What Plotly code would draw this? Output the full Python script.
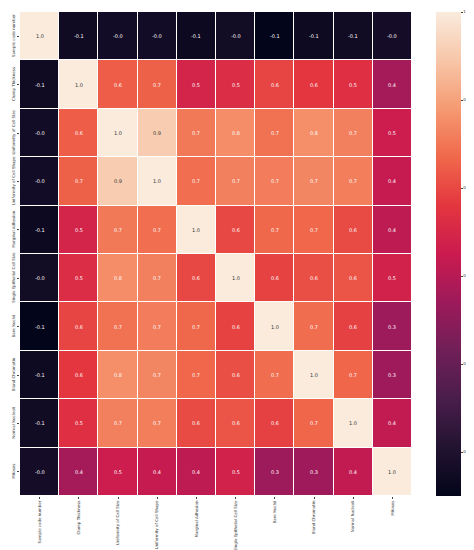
import plotly.graph_objects as go

labels = ["Sample code number", "Clump Thickness", "Uniformity of Cell Size",
          "Uniformity of Cell Shape", "Marginal Adhesion", "Single Epithelial Cell Size",
          "Bare Nuclei", "Bland Chromatin", "Normal Nucleoli", "Mitoses"]

sample = [1.0, -0.055, -0.042, -0.042, -0.065, -0.046, -0.099, -0.060, -0.052, -0.035]
clump = [-0.055, 1.0, 0.645, 0.655, 0.486, 0.522, 0.593, 0.558, 0.536, 0.360]
usize = [-0.042, 0.645, 1.0, 0.907, 0.707, 0.752, 0.692, 0.756, 0.723, 0.459]
ushape = [-0.042, 0.655, 0.907, 1.0, 0.683, 0.720, 0.714, 0.736, 0.719, 0.439]
adhesion = [-0.065, 0.486, 0.707, 0.683, 1.0, 0.600, 0.671, 0.667, 0.603, 0.418]
secs = [-0.046, 0.522, 0.752, 0.720, 0.600, 1.0, 0.586, 0.616, 0.629, 0.479]
bare = [-0.099, 0.593, 0.692, 0.714, 0.671, 0.586, 1.0, 0.681, 0.584, 0.339]
chromatin = [-0.060, 0.558, 0.756, 0.736, 0.667, 0.616, 0.681, 1.0, 0.666, 0.344]
nucleoli = [-0.052, 0.536, 0.723, 0.719, 0.603, 0.629, 0.584, 0.666, 1.0, 0.428]
mitoses = [-0.035, 0.360, 0.459, 0.439, 0.418, 0.479, 0.339, 0.344, 0.428, 1.0]

z = [sample, clump, usize, ushape, adhesion, secs, bare, chromatin, nucleoli, mitoses]

rocket = [
    [0.0, "#03051a"], [0.1, "#221331"], [0.2, "#491d4a"], [0.3, "#701f57"],
    [0.4, "#9d1a5b"], [0.5, "#cb1b4f"], [0.6, "#e3363f"], [0.7, "#f0684b"],
    [0.8, "#f59a72"], [0.9, "#f7c6a8"], [1.0, "#faebdd"],
]

fig = go.Figure(go.Heatmap(
    z=z, x=labels, y=labels, colorscale=rocket, zmin=-0.1, zmax=1.0,
    xgap=1, ygap=1, hoverinfo="z",
    colorbar=dict(thickness=25, len=1.0, lenmode="fraction", y=0.5, yanchor="middle",
                  x=1.06, xanchor="left", xpad=0, ypad=0, outlinewidth=0,
                  tickvals=[0.0, 0.2, 0.4, 0.6, 0.8, 1.0],
                  ticktext=["0.0", "0.2", "0.4", "0.6", "0.8", "1.0"],
                  tickfont=dict(size=4, color="#333"), ticks="outside", ticklen=2),
))
for i, row in enumerate(z):
    for j, v in enumerate(row):
        fig.add_annotation(x=labels[j], y=labels[i], text=f"{v:.1f}", showarrow=False,
                           font=dict(size=5, color="#333" if v > 0.85 else "white"))
fig.update_layout(
    width=474, height=550, margin=dict(l=12, r=70, t=4, b=62),
    plot_bgcolor="white", paper_bgcolor="white",
    font=dict(family="DejaVu Sans", size=4, color="#333"),
)
fig.update_xaxes(tickangle=-90, tickfont=dict(size=4), showgrid=False, ticks="outside", ticklen=2)
fig.update_yaxes(autorange="reversed", tickangle=-90, tickfont=dict(size=4), showgrid=False, ticks="outside", ticklen=2)
fig.write_html("out.html")
